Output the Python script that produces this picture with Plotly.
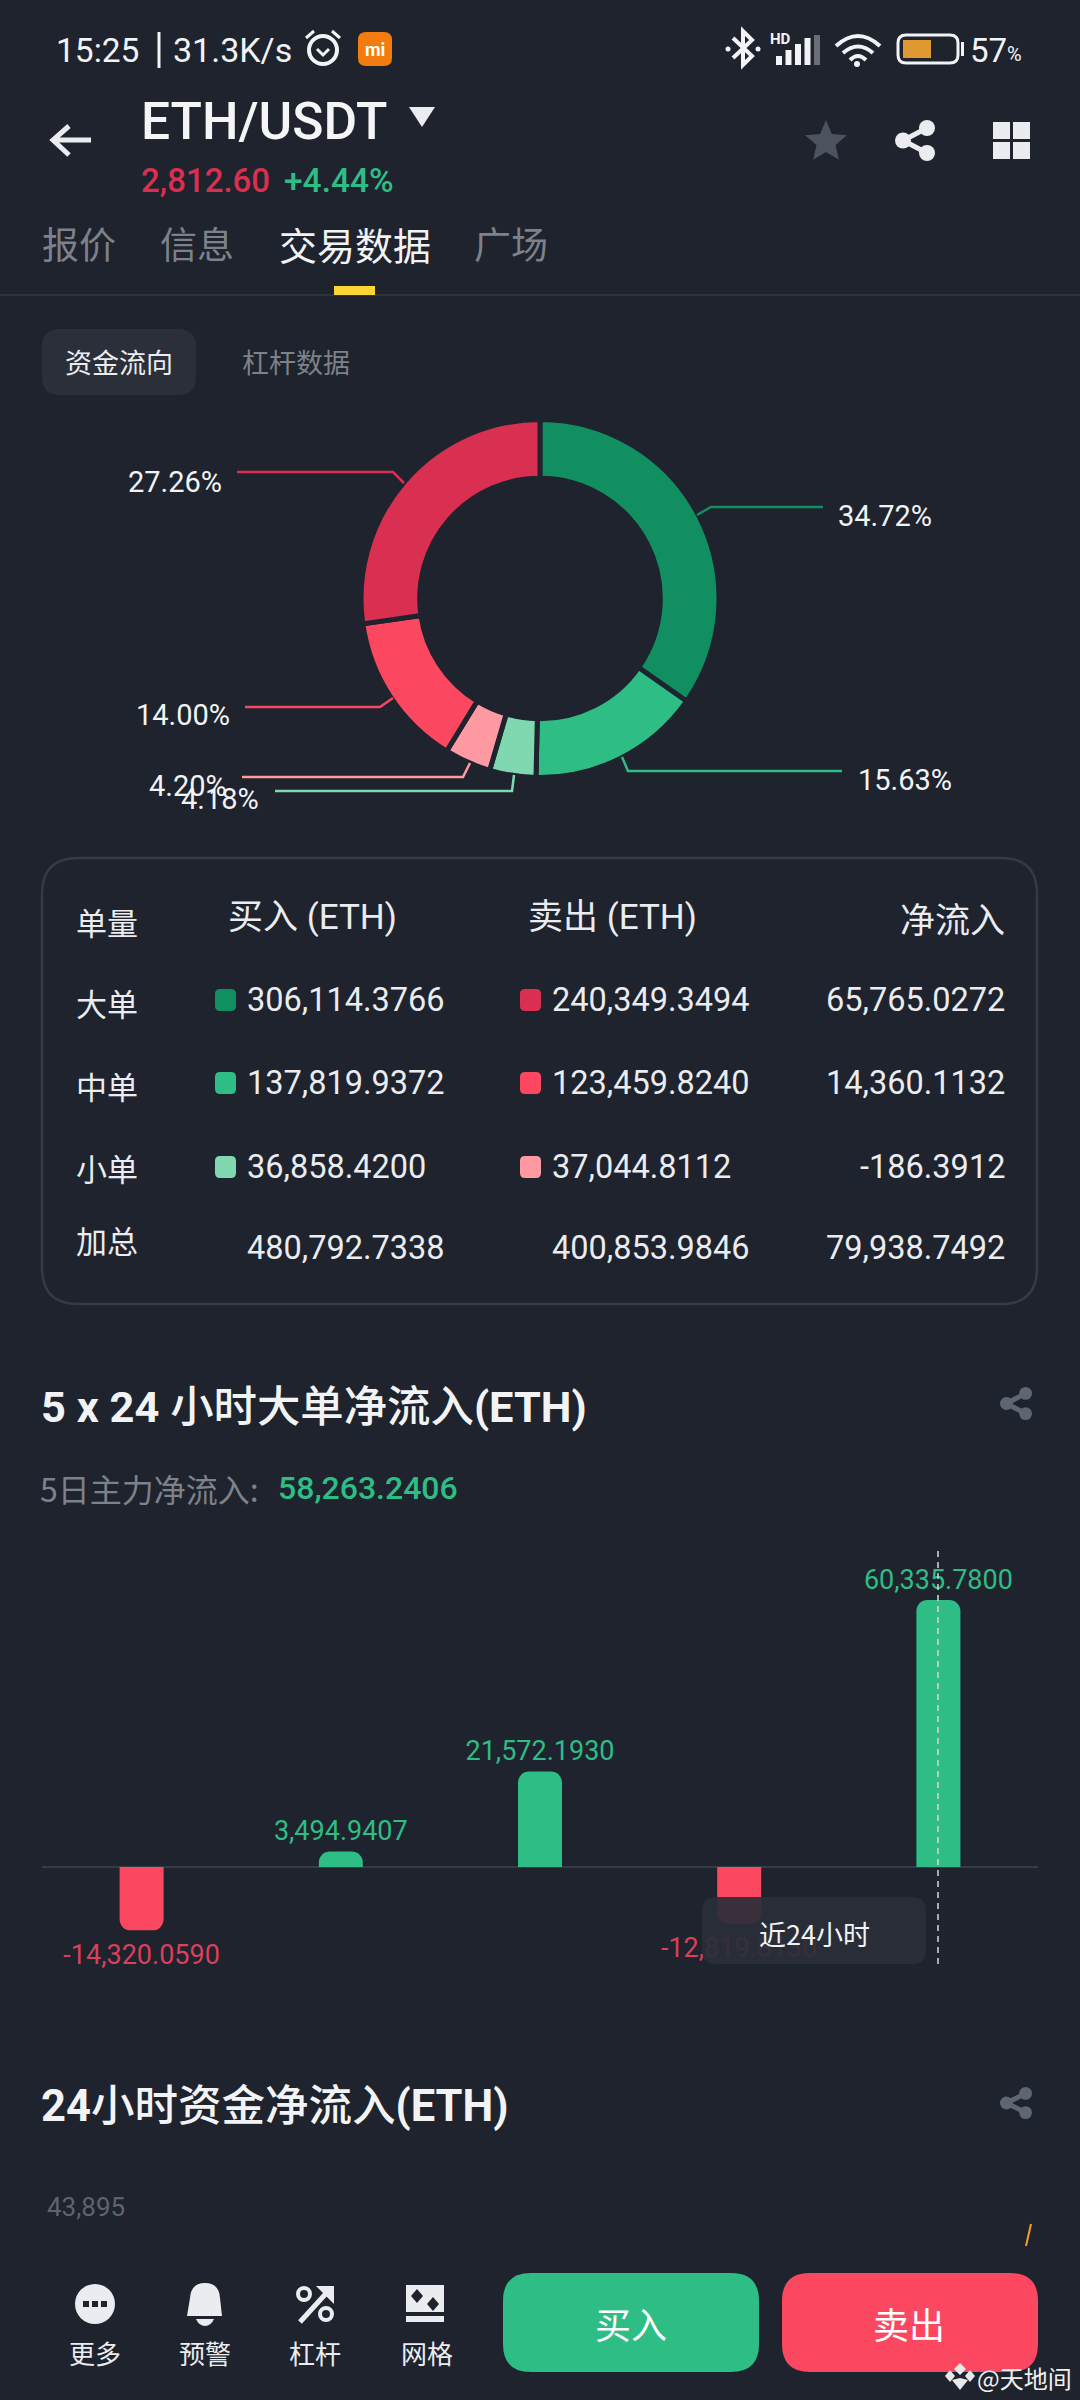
import math
import plotly.graph_objects as go

# ---- data ----
slice_names = ["大单买入", "中单买入", "小单买入", "小单卖出", "中单卖出", "大单卖出"]
slice_values = [34.72, 15.63, 4.18, 4.20, 14.00, 27.26]
slice_colors = ["#118f60", "#2ebd85", "#7fd8b0", "#ff9aa2", "#fb4760", "#d92f50"]

table_rows = ["大单", "中单", "小单", "加总"]
buy_values = ["306,114.3766", "137,819.9372", "36,858.4200", "480,792.7338"]
sell_values = ["240,349.3494", "123,459.8240", "37,044.8112", "400,853.9846"]
net_values = ["65,765.0272", "14,360.1132", "-186.3912", "79,938.7492"]

bar_days = ["d1", "d2", "d3", "d4", "d5"]
bar_values = [-14320.0590, 3494.9407, 21572.1930, -12819.8130, 60335.7800]

# ---- style ----
BG = "#1e232e"
GREEN = "#2ebd85"
RED = "#fb4760"
WHITE = "#eaecef"
GREY = "#7d8189"
ICON_GREY = "#5e6673"
LATIN = "Roboto, Noto Sans CJK SC"
CJK = "Noto Sans CJK SC, Roboto"

W, H = 1080, 2400
PX_PER_UNIT = 4.425 / 1000  # bar height in pixels per ETH
ZERO_Y = 1867
BAR_TOP, BAR_BOTTOM = 1500, 2020

fig = go.Figure()

# Donut
fig.add_trace(go.Pie(
    labels=slice_names,
    values=slice_values,
    sort=False,
    direction="clockwise",
    rotation=0,
    hole=0.672,
    textinfo="none",
    showlegend=False,
    marker=dict(colors=slice_colors, line=dict(color=BG, width=5)),
    domain=dict(x=[361 / W, 719 / W], y=[1 - 777.5 / H, 1 - 419.5 / H]),
))

# Net inflow bars
fig.add_trace(go.Bar(
    x=bar_days,
    y=bar_values,
    marker=dict(color=[GREEN if v > 0 else RED for v in bar_values], cornerradius=11, line=dict(width=0)),
    showlegend=False,
))

# Bar labels: hidden markers set the gap between bar end and text
fig.add_trace(go.Scatter(
    x=bar_days,
    y=bar_values,
    mode="markers+text",
    text=[f"{v:,.4f}" for v in bar_values],
    textposition=["top center" if v > 0 else "bottom center" for v in bar_values],
    textfont=dict(family=LATIN, size=27, color=[GREEN if v > 0 else "#d9405a" for v in bar_values]),
    marker=dict(size=[6 if v > 0 else 20 for v in bar_values], opacity=0),
    cliponaxis=False,
    showlegend=False,
))

# Empty trace so the pixel overlay axes exist
fig.add_trace(go.Scatter(x=[None], y=[None], xaxis="x3", yaxis="y3", showlegend=False))

shapes = []
notes = []


def text(x, y, s, size, color=WHITE, anchor="left", family=CJK, weight=400):
    # annotations keep a small pad around the text, take it back here
    nudge = {"left": -3, "right": 3, "center": 0}[anchor]
    notes.append(dict(x=x + nudge, y=y, xref="x3", yref="y3", text=s, showarrow=False, xanchor=anchor, yanchor="middle",
                      font=dict(family=family, size=size, color=color, weight=weight)))


def path(d, fill=None, line=None, width=0):
    shapes.append(dict(type="path", path=d, xref="x3", yref="y3", fillcolor=fill or "rgba(0,0,0,0)",
                       line=dict(color=line or "rgba(0,0,0,0)", width=width)))


def round_rect(x0, y0, x1, y1, r, fill=None, line=None, width=0):
    d = (f"M{x0 + r},{y0} L{x1 - r},{y0} Q{x1},{y0} {x1},{y0 + r} L{x1},{y1 - r} Q{x1},{y1} {x1 - r},{y1} "
         f"L{x0 + r},{y1} Q{x0},{y1} {x0},{y1 - r} L{x0},{y0 + r} Q{x0},{y0} {x0 + r},{y0} Z")
    path(d, fill, line, width)


def circle(cx, cy, r, fill=None, line=None, width=0):
    shapes.append(dict(type="circle", xref="x3", yref="y3", x0=cx - r, x1=cx + r, y0=cy - r, y1=cy + r,
                       fillcolor=fill or "rgba(0,0,0,0)", line=dict(color=line or "rgba(0,0,0,0)", width=width)))


def share_icon(x0, x1, y0, y1, color):
    r = (x1 - x0) * 0.2
    left = (x0 + r, (y0 + y1) / 2)
    top = (x1 - r, y0 + r)
    bottom = (x1 - r, y1 - r)
    path(f"M{top[0]},{top[1]} L{left[0]},{left[1]} L{bottom[0]},{bottom[1]}", line=color, width=5)
    for cx, cy in (left, top, bottom):
        circle(cx, cy, r, fill=color)


# Status bar
text(57, 50, "15:25", 33.5, "#f2f3f5", family=LATIN)
path("M159,32 L159,68", line="#f2f3f5", width=3)
text(174, 50, "31.3K/s", 34, "#f2f3f5", family=LATIN)
circle(323, 50, 14, line="#f2f3f5", width=4)
path("M306,38 L314,31 M340,38 L332,31 M317,49 L323,55 L329,49", line="#f2f3f5", width=3)
round_rect(358, 32, 392, 66, 8, fill="#f47b0d")
text(375, 49, "mi", 18, "#ffffff", "center", LATIN, 700)
path("M733,38 L752,56 L743,65 L743,31 L752,40 L733,58", line="#f2f3f5", width=4)
circle(728, 49, 2.5, fill="#f2f3f5")
circle(758, 49, 2.5, fill="#f2f3f5")
text(771, 39, "HD", 15, "#f2f3f5", family=LATIN, weight=700)
for i, top_y in enumerate((56, 50, 44, 38, 35)):
    x0 = 776 + i * 9.5
    shapes.append(dict(type="rect", xref="x3", yref="y3", x0=x0, x1=x0 + 6, y0=top_y, y1=65,
                       fillcolor="#f2f3f5" if i < 4 else "#6a6e76", line=dict(width=0)))
path("M836,46 Q858,26 880,46", line="#f2f3f5", width=4)
path("M843,53 Q858,40 873,53", line="#f2f3f5", width=4)
path("M850,60 Q858,52 866,60", line="#f2f3f5", width=4)
circle(857, 64, 3, fill="#f2f3f5")
round_rect(898, 35, 958, 63, 8, line="#f2f3f5", width=3)
shapes.append(dict(type="rect", xref="x3", yref="y3", x0=903, x1=931, y0=40, y1=58, fillcolor="#e09a32", line=dict(width=0)))
shapes.append(dict(type="rect", xref="x3", yref="y3", x0=961, x1=964, y0=42, y1=56, fillcolor="#f2f3f5", line=dict(width=0)))
text(971, 50, "57", 33, "#f2f3f5", family=LATIN)
text(1008, 54, "%", 20, "#f2f3f5", family=LATIN)

# Header
path("M91,140 L53,140 M69,126 L53,140 L69,155", line=WHITE, width=5)
text(142, 121, "ETH/USDT", 51.5, "#f5f5f5", family=LATIN, weight=500)
path("M409,107 L435,107 L422,127 Z", fill=WHITE)
text(142, 180, "2,812.60", 33, "#d9304f", family=LATIN, weight=500)
text(285, 180, "+4.44%", 33.5, GREEN, family=LATIN, weight=500)
star = []
for i in range(10):
    rad = 22 if i % 2 == 0 else 10
    ang = -math.pi / 2 + i * math.pi / 5
    star.append(f"{826 + rad * math.cos(ang):.1f},{142 + rad * math.sin(ang):.1f}")
path("M" + " L".join(star) + " Z", fill="#4d535e")
share_icon(895, 935, 120, 161, WHITE)
for x0 in (993, 1013):
    for y0 in (122, 142):
        shapes.append(dict(type="rect", xref="x3", yref="y3", x0=x0, x1=x0 + 17, y0=y0, y1=y0 + 17,
                           fillcolor=WHITE, line=dict(width=0)))

# Tabs
text(43, 243, "报价", 37, GREY)
text(161, 243, "信息", 37, GREY)
text(280, 243, "交易数据", 38, "#f2f3f5")
text(475, 243, "广场", 37, GREY)
shapes.append(dict(type="rect", xref="x3", yref="y3", x0=0, x1=W, y0=294, y1=296, fillcolor="#2e323c", line=dict(width=0)))
shapes.append(dict(type="rect", xref="x3", yref="y3", x0=334, x1=375, y0=286, y1=295, fillcolor="#fcd535", line=dict(width=0)))

# Sub tabs
round_rect(42, 329, 196, 395, 18, fill="#2a2f3a")
text(119, 361, "资金流向", 27, WHITE, "center")
text(243, 361, "杠杆数据", 27, GREY)

# Donut leaders and labels
leaders = [
    ("M823,507 L711,507 L697,515", slice_colors[0]),
    ("M842,771 L628,771 L622,757", slice_colors[1]),
    ("M275,791 L512,791 L514,775", slice_colors[2]),
    ("M242,777 L463,777 L470,763", slice_colors[3]),
    ("M245,707 L380,707 L393,698", slice_colors[4]),
    ("M237,472 L393,472 L404,483", slice_colors[5]),
]
for d, color in leaders:
    path(d, line=color, width=2.5)
slice_label_spots = [(839, 516), (859, 780), (182, 799), (150, 786), (137, 715), (129, 482)]
for v, (x, y) in zip(slice_values, slice_label_spots):
    text(x, y, f"{v:.2f}%", 29, "#f2f3f5", family=LATIN)

# Table
round_rect(42, 858, 1037, 1304, 36, line="#363a44", width=2.5)
text(77, 921, "单量", 31)
text(229, 917, "买入 (ETH)", 35, family=LATIN)
text(529, 917, "卖出 (ETH)", 35, family=LATIN)
text(1004, 917, "净流入", 35, anchor="right")
label_y = [1002, 1085, 1167, 1239]
value_y = [1000, 1083, 1167, 1248]
for i, name in enumerate(table_rows):
    text(77, label_y[i], name, 31)
    text(248, value_y[i], buy_values[i], 32.5, family=LATIN)
    text(553, value_y[i], sell_values[i], 32.5, family=LATIN)
    text(1004, value_y[i], net_values[i], 32.5, family=LATIN, anchor="right")
    if i < 3:
        round_rect(215, value_y[i] - 11, 236, value_y[i] + 11, 5, fill=slice_colors[i])
        round_rect(520, value_y[i] - 11, 541, value_y[i] + 11, 5, fill=slice_colors[5 - i])

# 5 x 24 section
text(42, 1407, "<b>5 x 24</b> 小时大单净流入<b>(ETH)</b>", 43.4, "#f2f3f5", family=LATIN, weight=500)
share_icon(1000, 1032, 1387, 1420, ICON_GREY)
text(41, 1488, "5日主力净流入:", 32, GREY)
text(279, 1488, "58,263.2406", 32, GREEN, family=LATIN, weight=500)
path("M938,1551 L938,1964", line="#d5d7db", width=1.5)
shapes[-1]["line"]["dash"] = "6px,5px"
round_rect(702, 1897, 926, 1964, 14, fill="rgba(42,46,57,0.93)")
text(814, 1933, "近24小时", 27, "#f2f3f5", "center")

# 24h section
text(42, 2106, "<b>24</b>小时资金净流入<b>(ETH)</b>", 43.5, "#f2f3f5", family=LATIN, weight=500)
share_icon(1000, 1032, 2087, 2119, ICON_GREY)
text(48, 2207, "43,895", 26, "#5f636b", family=LATIN)
path("M1031,2224 L1026,2246", line="#f0a030", width=2)

# Bottom bar
circle(95, 2304, 20, fill=WHITE)
for dx in (-9, 0, 9):
    shapes.append(dict(type="rect", xref="x3", yref="y3", x0=95 + dx - 3, x1=95 + dx + 3, y0=2301, y1=2307,
                       fillcolor=BG, line=dict(width=0)))
path("M205,2283 Q219,2283 220,2298 L222,2316 L187,2316 L190,2298 Q191,2283 205,2283 Z", fill=WHITE)
path("M196,2319 L214,2319 Q211,2326 205,2326 Q199,2326 196,2319 Z", fill=WHITE)
circle(304, 2294, 6, line=WHITE, width=4)
circle(326, 2314, 6, line=WHITE, width=4)
path("M300,2322 L331,2288", line=WHITE, width=5)
path("M316,2286 L334,2286 L334,2304 Z", fill=WHITE)
path("M406,2285 L444,2285 L444,2312 L406,2312 Z", fill=WHITE)
path("M417,2289 L423,2296 L417,2303 L411,2296 Z M433,2297 L439,2304 L433,2311 L427,2304 Z", fill=BG)
shapes.append(dict(type="rect", xref="x3", yref="y3", x0=406, x1=444, y0=2316, y1=2322, fillcolor=WHITE, line=dict(width=0)))
for x, name in zip((95, 205, 315, 427), ("更多", "预警", "杠杆", "网格")):
    text(x, 2352, name, 26, WHITE, "center")
round_rect(503, 2273, 759, 2372, 28, fill=GREEN)
round_rect(782, 2273, 1038, 2372, 28, fill=RED)
text(631, 2323, "买入", 36, "#ffffff", "center")
text(909, 2323, "卖出", 36, "#ffffff", "center")

# Watermark
path("M960,2363 L966,2369 L960,2375 L954,2369 Z M950,2370 L955,2376 L950,2382 L945,2376 Z "
     "M970,2370 L975,2376 L970,2382 L965,2376 Z M960,2378 L968,2380 L960,2390 L952,2380 Z", fill="#e8e8e8")
text(978, 2377, "@天地间", 24, "#f0f0f0")

fig.update_layout(
    width=W,
    height=H,
    autosize=False,
    margin=dict(l=0, r=0, t=0, b=0),
    paper_bgcolor=BG,
    plot_bgcolor="rgba(0,0,0,0)",
    bargap=1 - 44 / 199.2,
    xaxis=dict(domain=[42 / W, 1038 / W], type="category", visible=False, fixedrange=True),
    yaxis=dict(
        domain=[1 - BAR_BOTTOM / H, 1 - BAR_TOP / H],
        range=[(ZERO_Y - BAR_BOTTOM) / PX_PER_UNIT, (ZERO_Y - BAR_TOP) / PX_PER_UNIT],
        showgrid=False,
        showticklabels=False,
        zeroline=True,
        zerolinecolor="#363a44",
        zerolinewidth=2,
        fixedrange=True,
    ),
    xaxis3=dict(domain=[0, 1], range=[0, W], anchor="y3", visible=False, fixedrange=True),
    yaxis3=dict(domain=[0, 1], range=[H, 0], anchor="x3", visible=False, fixedrange=True),
    shapes=shapes,
    annotations=notes,
)

fig.write_html("out.html", config={"displayModeBar": False},
               post_script="document.body.style.margin='0';document.body.style.background='" + BG + "';")
